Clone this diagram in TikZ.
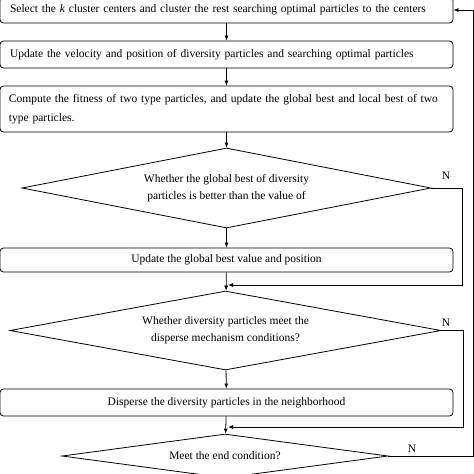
\documentclass[tikz,border=0pt]{standalone}
\usepackage{fontspec}
\setmainfont{Liberation Serif}
\usetikzlibrary{positioning, arrows.meta, shapes.geometric}
\hyphenpenalty=10000

\begin{document}
\begin{tikzpicture}[x=1pt, y=-1pt,
    stepbox/.style={draw, rounded corners=3.5pt, line width=0.8pt, minimum width=453pt,
        inner sep=0pt, font=\fontsize{11.5}{19}\selectfont},
    decide/.style={draw, diamond, aspect=5, inner sep=0pt, line width=0.8pt, align=center,
        font=\fontsize{11.5}{17}\selectfont},
    arr/.style={-{Latex[length=5pt,width=4pt]}, line width=0.8pt},
    link/.style={line width=0.8pt}]
    \useasboundingbox (0,0) rectangle (474,474);

    % Steps
    \node[stepbox, text width=433pt, align=left, minimum height=26pt] (select) at (226.5,10) {\mbox{Select the \textit{k} cluster centers and cluster the rest searching optimal particles to the centers}};
    \node[stepbox, text width=433pt, align=left, minimum height=27pt] (velocity) at (226.5,54.5) {Update the velocity and position of diversity particles and searching optimal particles};
    \node[stepbox, text width=435pt, align=left, minimum height=46pt] (fitness) at (226.5,109) {Compute the fitness of two type particles, and update the global best and local best of two type particles.};

    % First decision
    \node[decide, minimum width=409pt, minimum height=80pt] (better) at (226.5,188) {Whether the global best of diversity\\particles is better than the value of};
    \node[stepbox, align=center, minimum height=24pt] (gbest) at (226.5,260) {Update the global best value and position};

    % Second decision
    \node[decide, minimum width=431pt, minimum height=79pt] (disperse) at (225.5,330.5) {Whether diversity particles meet the\\disperse mechanism conditions?};
    \node[stepbox, align=center, minimum height=27pt] (neigh) at (226.5,402.5) {Disperse the diversity particles in the neighborhood};

    % End condition
    \node[decide, minimum width=326pt, minimum height=44pt] (stop) at (225,456) {Meet the end condition?};

    % Main flow
    \draw[arr] (select) -- (velocity);
    \draw[arr] (velocity) -- (fitness);
    \draw[arr] (fitness) -- (better);
    \draw[arr] (better) -- (gbest);
    \draw[arr] (gbest) -- (disperse);
    \draw[arr] (disperse) -- (neigh);
    \draw[arr] (neigh) -- (stop);

    % N branches
    \coordinate (join1) at (228,285);
    \coordinate (join2) at (228,427);
    \draw[arr] (better.east) -- (462,188) -- (462,285) -- (join1);
    \draw[arr] (disperse.east) -- (463,330.5) -- (463,427) -- (join2);
    \draw[arr] (stop.east) -- (473,456) -- (473,10) -- (select.east);
    \node (n1) at (446,176) {\fontsize{11.5}{12}\selectfont N};
    \node (n2) at (446,323) {\fontsize{11.5}{12}\selectfont N};
    \node (n3) at (412,449) {\fontsize{11.5}{12}\selectfont N};
\end{tikzpicture}
\end{document}
